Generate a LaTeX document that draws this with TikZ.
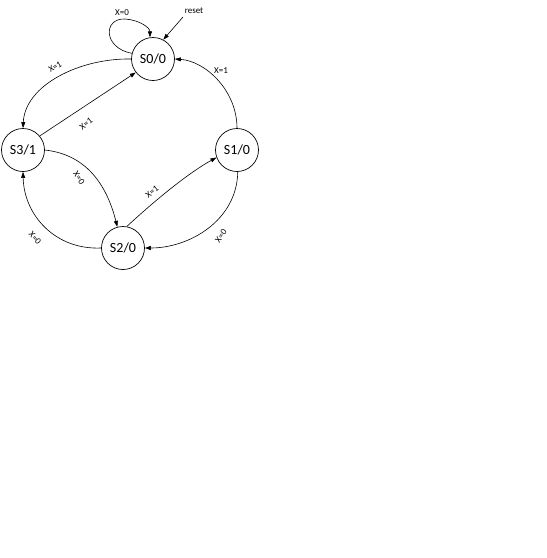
\documentclass[tikz,border=0pt]{standalone}
\usepackage{fontspec}
\setmainfont{Carlito}
\usetikzlibrary{arrows.meta}
\begin{document}
\begin{tikzpicture}[x=1pt,y=-1pt,
  state/.style={circle,draw,line width=0.7pt,minimum size=43pt,inner sep=0pt,font=\fontsize{14}{15}\selectfont},
  edge/.style={line width=0.6pt,-{Triangle[length=6pt,width=4pt]}},
  lbl/.style={font=\fontsize{9}{10}\selectfont,inner sep=0pt}]
\useasboundingbox (0,0) rectangle (547,558);
\fill[white] (0,0) rectangle (547,558);
\node[state] (s0) at (153,59) {S0/0};
\node[state] (s3) at (23,150) {S3/1};
\node[state] (s1) at (237,150) {S1/0};
\node[state] (s2) at (123,248) {S2/0};
\coordinate (rst) at (183,17);
% self loop
\draw[edge] (s0.165) .. controls (103,48) and (103,18) .. (125,19) .. controls (140,20) and (150,28) .. (s0.98);
\node[lbl] (l0) at (122,13) {X=0};
% reset
\draw[edge] (rst) -- (s0.62);
\node[lbl] (lr) at (194,11) {reset};
% S0 -> S3
\draw[edge] (s0.180) .. controls (80,58) and (25,85) .. (s3.90);
\node[lbl,rotate=30] (l1) at (55,67) {X=1};
% S3 -> S0
\draw[edge] (s3.40) -- (s0.218);
\node[lbl,rotate=38] (l2) at (86,124) {X=1};
% S1 -> S0
\draw[edge] (s1.90) .. controls (237,90) and (205,61) .. (s0.0);
\node[lbl] (l3) at (221,71) {X=1};
% S3 -> S2
\draw[edge] (s3.0) .. controls (90,155) and (108,190) .. (s2.105);
\node[lbl,rotate=-58] (l4) at (79,178) {X=0};
% S2 -> S1
\draw[edge] (s2.80) .. controls (150,205) and (185,175) .. (s1.200);
\node[lbl,rotate=38] (l5) at (152,192) {X=1};
% S1 -> S2
\draw[edge] (s1.272) .. controls (237,220) and (190,248) .. (s2.0);
\node[lbl,rotate=55] (l6) at (221,236) {X=0};
% S2 -> S3
\draw[edge] (s2.180) .. controls (55,250) and (24,215) .. (s3.270);
\node[lbl,rotate=-50] (l7) at (35,238) {X=0};
\end{tikzpicture}
\end{document}
